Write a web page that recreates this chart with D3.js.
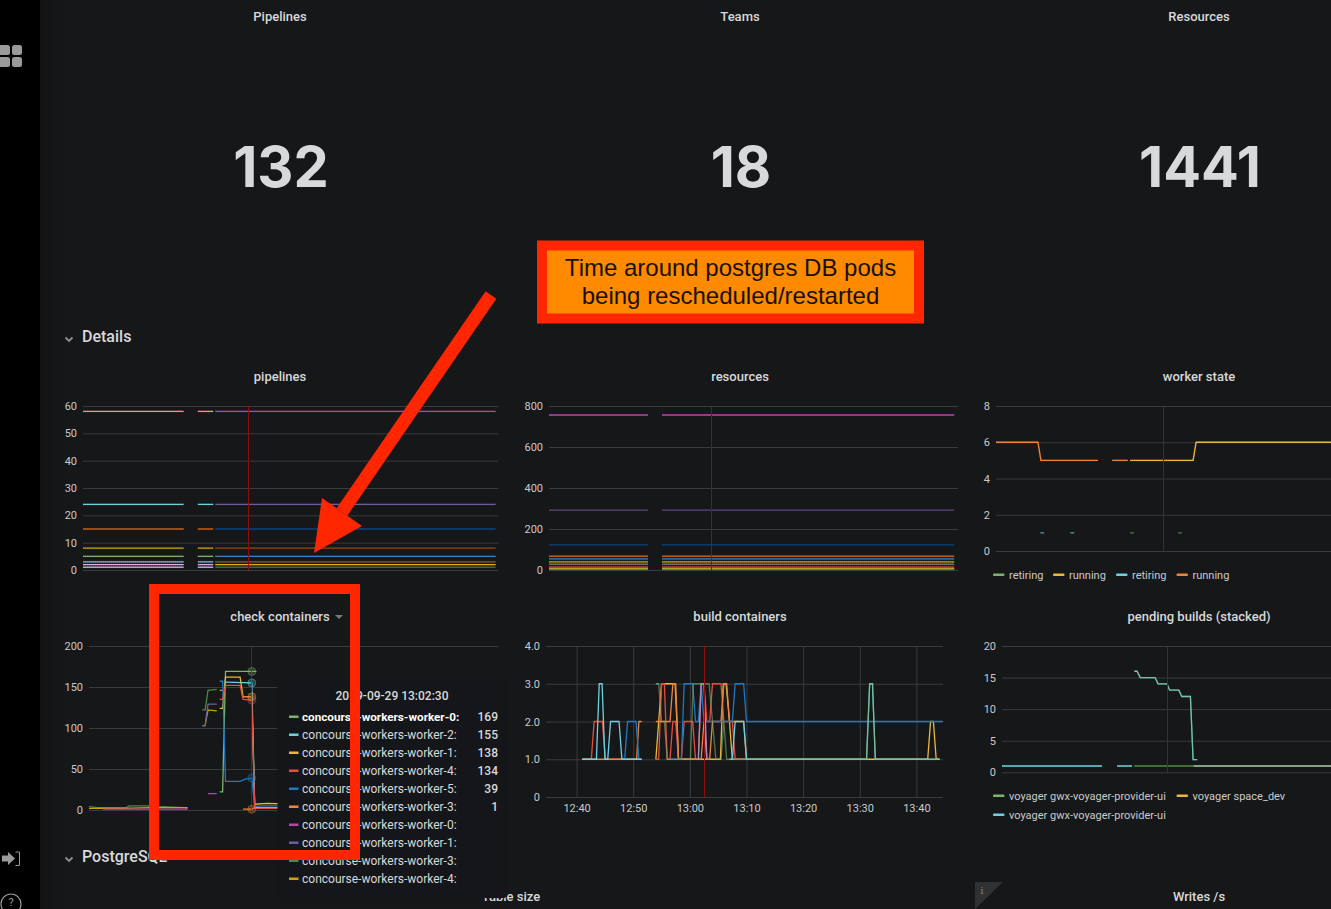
<!DOCTYPE html>
<html>
<head>
<meta charset="utf-8">
<title>concourse dashboard</title>
<script src="https://cdn.jsdelivr.net/npm/d3@7/dist/d3.min.js"></script>
<style>
    html, body { margin: 0; padding: 0; background: #161719; overflow: hidden; }
    svg { display: block; font-family: Roboto, sans-serif; }
    .tick text { fill: #c9cacb; font-size: 11px; font-family: Roboto, sans-serif; }
    .tick line { stroke: #3a3b3d; }
    .domain { display: none; }
    .title { fill: #d8d9da; font-size: 13px; font-weight: 500; text-anchor: middle; }
    .section { fill: #d8d9da; font-size: 16px; font-weight: 500; }
    .legend { fill: #c9cacb; font-size: 11px; }
    .tip { fill: #d8d9da; font-size: 12px; }
</style>
</head>
<body>
<svg id="chart" width="1331" height="909"></svg>
<script>
// times are minutes after 12:00 on 2019-09-29
var TIME_START = 34.6;
var TIME_END = 104.7;
var HOVER_TIME = 62.5;

var statTitles = ['Pipelines', 'Teams', 'Resources'];
var statValues = ['132', '18', '1441'];

var pipelineLevels = [58, 24, 15, 8, 5, 3, 2, 1];
var pipelineEarlySpans = [[34.6, 51.6], [54, 56.6]];
var pipelineLateSpans = [[56.95, 104.3]];

var resourceLevels = [756, 292, 123, 67, 54, 40, 28, 15, 8, 3];
var resourceSpans = [[34.6, 51.57], [53.97, 104.05]];

var workerYTicks = [0, 2, 4, 6, 8];
var workerRunningOrange = [[34.6, 6], [41.6, 6], [42.1, 5], [51.6, 5], [51.7, null], [54, 5], [56.6, 5]];
var workerRunningYellow = [[57, 5], [67.5, 5], [68, 6], [104.7, 6]];
var workerRetiringCyan = [[42, 1], [42.65, 1], [42.7, null], [47, 1], [47.65, 1]];
var workerRetiringGreen = [[57, 1], [57.6, 1], [57.7, null], [65, 1], [65.6, 1]];
var workerLegend = ['retiring', 'running', 'retiring', 'running'];

var checkGreenDark = [[34.6, 4], [36, 3], [41, 3], [41.5, 5], [44.7, 5], [45.2, 3], [46.4, 3], [47, 4], [51, 3], [51.5, 2], [51.6, null],
    [54, 122], [54.5, 122], [55, 146], [56.5, 147]];
var checkYellowDark = [[34.6, 2], [40, 2], [45, 3], [51.5, 3], [51.6, null],
    [54, 103], [54.5, 103], [55, 122], [56.5, 121]];
var checkPurple = [[54, 103], [54.5, 103], [55, 129], [56.5, 129]];
var checkMagenta = [[37, 1], [51.5, 1], [51.6, null], [55, 20], [56.5, 20]];
var checkGreen = [[57, 22], [57.5, 22], [58, 169], [63.3, 169]];
var checkOrange = [[57, 146], [57.5, 146], [57.6, null], [61, 1], [62.5, 1], [63, 3], [70, 3]];
var checkYellow = [[57, 124], [57.5, 124], [58, 162], [60.5, 162], [61, 138], [62.5, 138], [63, 7], [65, 8], [70, 7]];
var checkCyan = [[58, 156], [62.5, 155], [63, 3], [70, 3]];
var checkBlue = [[57, 157], [57.5, 157], [58, 35], [60.5, 35], [61.5, 38], [62, 38], [62.5, 39], [63, 4], [64, 5], [70, 5]];
var checkRed = [[57, 135], [57.5, 135], [58, 152], [60.5, 152], [61, 135], [62.5, 134], [63, 2], [70, 2]];

var buildTimeTicks = [40, 50, 60, 70, 80, 90, 100];
var buildYTicks = [0, 1, 2, 3, 4];
var buildGreen = [[54, 3], [54.5, 3], [55, 2], [55.5, 2], [56, 1], [60.1, 1], [60.6, 3], [63.4, 3], [64, 2], [64.6, 1], [65, 1], [65.5, 1], [66, 2], [66.5, 1], [70, 1],
    [91.2, 1], [91.75, 3], [92.25, 3], [92.75, 1], [104.1, 1]];
var buildYellow = [[54, 1], [54.5, 2], [55, 3], [57.4, 3], [58, 1], [65.4, 1], [65.9, 3], [66.4, 3], [67, 2], [67.5, 1], [70, 1],
    [102, 1], [102.5, 2], [103, 2], [103.5, 1], [104.1, 1]];
var buildRed = [[41, 1], [42.6, 1], [43.1, 2], [44.55, 2], [45.1, 1], [50.6, 1], [51, 1], [51.5, 1], [51.6, null],
    [54, 1], [54.5, 1], [55, 3], [55.5, 3], [56, 1], [56.5, 1], [57, 2], [57.5, 2], [58, 1], [58.5, 1], [59, 2], [60.5, 2], [61, 1], [61.5, 1], [62, 3], [62.5, 3], [63, 2], [63.5, 2], [64, 3], [65.5, 3], [66, 2], [67.5, 2], [68, 1], [70, 1]];
var buildOrange = [[41, 1], [50.6, 1], [51, 2], [51.5, 2], [51.6, null],
    [54, 2], [56.5, 2], [57, 3], [57.5, 3], [58, 1], [62, 1], [62.5, 2], [63, 1], [63.5, 1], [64, 2], [65.5, 2], [66, 3], [66.5, 3], [67, 2], [67.5, 2], [69.5, 2], [70, 1]];
var buildBlue = [[48, 1], [48.5, 1], [49, 2], [50.5, 2], [51, 1], [51.5, 1], [51.6, null],
    [54, 3], [54.5, 3], [54.6, null], [56.6, 1], [58.5, 1], [59, 3], [60.5, 3], [61, 2], [61.5, 2], [62, 3], [62.5, 2], [67.5, 2], [68, 3], [69.5, 3], [70, 2], [104.7, 2]];
var buildPurple = [[61.5, 1], [62, 3], [62.5, 3], [63, 1]];
var buildCyan = [[41, 1], [43.5, 1], [44, 3], [44.5, 3], [45, 1], [45.5, 1], [46, 2], [47.5, 2], [48, 1], [51.5, 1], [51.6, null],
    [67, 1], [67.5, 1], [68, 2], [69.5, 2], [70, 1], [91.2, 1], [91.75, 3], [92.25, 3], [92.75, 1], [104.1, 1]];

var pendingYTicks = [0, 5, 10, 15, 20];
var pendingStep = [[56.9, 16], [57.35, 16], [57.9, 15], [60.4, 15], [60.9, 14], [62.4, 14], [62.85, 13], [64.4, 13], [64.9, 12], [66.35, 12], [66.8, 2], [67.5, 2]];
var pendingBaseCyan = [[34.6, 1], [51.45, 1], [51.5, null], [54, 1], [56.5, 1]];
var pendingBaseGreen = [[56.9, 1], [66.9, 1]];
var pendingBaseLight = [[66.9, 1], [104.7, 1]];
var pendingLegend = ['voyager gwx-voyager-provider-ui', 'voyager space_dev', 'voyager gwx-voyager-provider-ui'];

var tooltipTime = '2019-09-29 13:02:30';
var tooltipNames = [
    'concourse-workers-worker-0:', 'concourse-workers-worker-2:', 'concourse-workers-worker-1:',
    'concourse-workers-worker-4:', 'concourse-workers-worker-5:', 'concourse-workers-worker-3:',
    'concourse-workers-worker-0:', 'concourse-workers-worker-1:', 'concourse-workers-worker-3:',
    'concourse-workers-worker-4:'
];
var tooltipValues = [169, 155, 138, 134, 39, 1, null, null, null, null];

(function () {
    'use strict';

    var svg = d3.select('#chart');
    var GREEN = '#7eb26d', YELLOW = '#eab839', CYAN = '#6ed0e0', ORANGE = '#ef843c',
        RED = '#e24d42', BLUE = '#1f78c1', MAGENTA = '#ba43a9', PURPLE = '#705da0',
        DARK_GREEN = '#508642', DARK_YELLOW = '#cca300';
    var tooltipColors = [GREEN, CYAN, YELLOW, RED, BLUE, ORANGE, MAGENTA, PURPLE, DARK_GREEN, DARK_YELLOW];

    function toDate(minutes) {
        return new Date(Date.UTC(2019, 8, 29, 12, 0, Math.round(minutes * 60)));
    }

    function flat(level, spans) {
        var points = [];
        spans.forEach(function (span, i) {
            if (i > 0) {
                points.push([span[0] - 0.01, null]);
            }
            points.push([span[0], level], [span[1], level]);
        });
        return points;
    }

    /**
     * grid, y ticks and scales for one graph panel
     */
    function makePanel(left, right, top, bottom, yMax, yTicks, yFormat) {
        var panel = {
            x: d3.scaleUtc().domain([toDate(TIME_START), toDate(TIME_END)]).range([left, right]),
            y: d3.scaleLinear().domain([0, yMax]).range([bottom, top]),
            g: svg.append('g')
        };
        panel.g.append('g')
            .attr('transform', 'translate(' + left + ',0)')
            .call(d3.axisLeft(panel.y)
                .tickValues(yTicks)
                .tickFormat(yFormat || d3.format('d'))
                .tickSize(-(right - left))
                .tickPadding(6));
        panel.line = d3.line()
            .defined(function (d) { return d[1] !== null; })
            .x(function (d) { return panel.x(toDate(d[0])); })
            .y(function (d) { return panel.y(d[1]); });
        panel.bottom = bottom;
        panel.top = top;
        return panel;
    }

    function drawLine(panel, points, color, dotted, opacity) {
        panel.g.append('path')
            .datum(points)
            .attr('fill', 'none')
            .attr('stroke', color)
            .attr('stroke-width', 1.3)
            .attr('stroke-opacity', opacity || 1)
            .attr('d', panel.line);
        if (dotted) {
            panel.g.append('path')
                .datum(points)
                .attr('fill', 'none')
                .attr('stroke', color)
                .attr('stroke-width', 2)
                .attr('stroke-opacity', 0.25)
                .attr('stroke-dasharray', '1,1')
                .attr('d', panel.line);
        }
    }

    function drawCrosshair(panel) {
        var x = Math.floor(panel.x(toDate(HOVER_TIME))) + 0.5;
        panel.g.append('line')
            .attr('x1', x).attr('x2', x)
            .attr('y1', panel.top).attr('y2', panel.bottom)
            .attr('stroke', '#8b0d0d')
            .attr('stroke-width', 1);
    }

    function title(text, x, y) {
        return svg.append('text').attr('class', 'title').attr('x', x).attr('y', y).text(text);
    }

    function legendItem(text, color, swatchX, y) {
        svg.append('rect')
            .attr('x', swatchX).attr('y', y - 1.5)
            .attr('width', 11.5).attr('height', 2.5).attr('rx', 1)
            .attr('fill', color);
        svg.append('text').attr('class', 'legend')
            .attr('x', swatchX + 16).attr('y', y + 4).text(text);
    }

    function chevron(y) {
        svg.append('polyline')
            .attr('points', '65.5,' + y + ' 69,' + (y + 3.5) + ' 72.5,' + y)
            .attr('fill', 'none').attr('stroke', '#8e8f90').attr('stroke-width', 1.8);
    }

    /**
     * page chrome
     */
    function drawChrome() {
        var shade = svg.append('defs').append('linearGradient').attr('id', 'shade');
        shade.append('stop').attr('offset', 0).attr('stop-color', '#121315');
        shade.append('stop').attr('offset', 1).attr('stop-color', '#161719');
        svg.append('rect').attr('width', 1331).attr('height', 909).attr('fill', '#161719');
        svg.append('rect').attr('x', 40).attr('width', 20).attr('height', 909).attr('fill', 'url(#shade)');
        svg.append('rect').attr('width', 40).attr('height', 909).attr('fill', '#000');

        [[-2, 45], [12, 45], [-2, 57], [12, 57]].forEach(function (p) {
            svg.append('rect').attr('x', p[0]).attr('y', p[1])
                .attr('width', p[0] < 0 ? 12 : 10).attr('height', 10).attr('rx', 2.5)
                .attr('fill', '#9a9a9a');
        });
        svg.append('path')
            .attr('d', 'M2,855.5 H8 V852 L15,858.5 L8,865 V861.5 H2 Z')
            .attr('fill', '#9a9a9a');
        svg.append('path')
            .attr('d', 'M15.5,852 H19.5 V865.5 H15.5')
            .attr('fill', 'none').attr('stroke', '#9a9a9a').attr('stroke-width', 1);
        svg.append('circle').attr('cx', 11).attr('cy', 904).attr('r', 10)
            .attr('fill', 'none').attr('stroke', '#9a9a9a').attr('stroke-width', 1.2);
        svg.append('text').attr('x', 11).attr('y', 906).attr('text-anchor', 'middle')
            .attr('fill', '#9a9a9a').attr('font-size', 11).text('?');

        svg.append('path').attr('d', 'M975,882 H1003 L975,909 Z').attr('fill', '#303133');
        svg.append('text').attr('x', 982).attr('y', 894).attr('text-anchor', 'middle')
            .attr('fill', '#8e8f90').attr('font-size', 9).attr('font-family', 'DejaVu Serif').text('i');
    }

    function drawStats() {
        var centers = [280, 740, 1199];
        statTitles.forEach(function (name, i) {
            title(name, centers[i], 21);
            svg.append('text')
                .attr('x', centers[i] + 1).attr('y', 187)
                .attr('text-anchor', 'middle')
                .attr('fill', '#d8d9da')
                .attr('font-family', 'Inter, Roboto, sans-serif')
                .attr('font-size', 56)
                .attr('font-weight', 700)
                .text(statValues[i]);
        });
        chevron(337.5);
        svg.append('text').attr('class', 'section').attr('x', 82).attr('y', 342).text('Details');
    }

    function drawPipelines() {
        var panel = makePanel(83, 498, 406, 570, 60, [0, 10, 20, 30, 40, 50, 60]);
        var early = ['#f29191', CYAN, '#c15c17', DARK_YELLOW, GREEN, '#82b5d8', '#e5a8e2', '#aea2e0'];
        var late = [MAGENTA, PURPLE, '#0a437c', '#99440a', '#447ebc', '#7a5a4a', '#e5ac0e', '#3f6833'];
        pipelineLevels.forEach(function (level, i) {
            drawLine(panel, flat(level, pipelineEarlySpans), early[i], true);
            drawLine(panel, flat(level, pipelineLateSpans), late[i], true);
        });
        drawCrosshair(panel);
        title('pipelines', 280, 381);
    }

    function drawResources() {
        var panel = makePanel(549, 958, 406, 570, 800, [0, 200, 400, 600, 800]);
        var colors = [MAGENTA, '#584477', '#0a437c', '#c15c17', '#447ebc', DARK_YELLOW, '#6d7176', '#bf3b2c', '#e5ac0e', DARK_GREEN];
        resourceLevels.forEach(function (level, i) {
            drawLine(panel, flat(level, resourceSpans), colors[i], true);
        });
        drawCrosshair(panel);
        title('resources', 740, 381);
    }

    function drawWorkers() {
        var panel = makePanel(996, 1416, 406, 551, 8, workerYTicks);
        drawLine(panel, workerRetiringCyan, CYAN, false, 0.7);
        drawLine(panel, workerRetiringGreen, DARK_GREEN);
        drawLine(panel, workerRunningOrange, ORANGE, true);
        drawLine(panel, workerRunningYellow, YELLOW, true);
        drawCrosshair(panel);
        title('worker state', 1199, 381);
        [GREEN, YELLOW, CYAN, ORANGE].forEach(function (color, i) {
            legendItem(workerLegend[i], color, [993, 1053, 1116, 1176.5][i], 575);
        });
    }

    function drawCheck() {
        var panel = makePanel(89, 498, 646, 810, 200, [0, 50, 100, 150, 200]);
        var hoverX = panel.x(toDate(HOVER_TIME));
        drawLine(panel, checkGreenDark, DARK_GREEN);
        drawLine(panel, checkYellowDark, DARK_YELLOW);
        drawLine(panel, checkPurple, PURPLE);
        drawLine(panel, checkMagenta, MAGENTA);
        drawLine(panel, checkGreen, GREEN);
        drawLine(panel, checkOrange, ORANGE);
        drawLine(panel, checkYellow, YELLOW);
        drawLine(panel, checkCyan, CYAN);
        drawLine(panel, checkBlue, BLUE);
        drawLine(panel, checkRed, RED);
        drawCrosshair(panel);
        tooltipValues.forEach(function (value, i) {
            if (value === null) {
                return;
            }
            panel.g.append('circle')
                .attr('cx', hoverX).attr('cy', panel.y(value)).attr('r', 4)
                .attr('fill', tooltipColors[i]).attr('fill-opacity', 0.25)
                .attr('stroke', tooltipColors[i]).attr('stroke-opacity', 0.4);
        });
        title('check containers', 280, 621);
        svg.append('path').attr('d', 'M335,615 H343 L339,619 Z').attr('fill', '#7b7b7c');
    }

    function drawBuild() {
        var panel = makePanel(546, 943, 646, 797, 4, buildYTicks, function (d) {
            return d === 0 ? '0' : d3.format('.1f')(d);
        });
        panel.g.append('g')
            .attr('transform', 'translate(0,797)')
            .call(d3.axisBottom(panel.x)
                .tickValues(buildTimeTicks.map(toDate))
                .tickFormat(d3.utcFormat('%H:%M'))
                .tickSize(-151)
                .tickPadding(7));
        drawLine(panel, buildYellow, YELLOW);
        drawLine(panel, buildRed, RED);
        drawLine(panel, buildOrange, ORANGE);
        drawLine(panel, buildBlue, BLUE);
        drawLine(panel, buildPurple, '#a98fc0');
        drawLine(panel, buildCyan, CYAN);
        drawLine(panel, buildGreen, GREEN, false, 0.6);
        drawCrosshair(panel);
        title('build containers', 740, 621);
    }

    function drawPending() {
        var panel = makePanel(1002, 1418, 646, 772.3, 20, pendingYTicks);
        drawLine(panel, pendingBaseCyan, CYAN, true);
        drawLine(panel, pendingBaseGreen, DARK_GREEN, true);
        drawLine(panel, pendingBaseLight, '#a3c9a0', true);
        drawLine(panel, pendingStep, CYAN);
        drawLine(panel, pendingStep, GREEN, false, 0.45);
        drawCrosshair(panel);
        title('pending builds (stacked)', 1199, 621);
        legendItem(pendingLegend[0], GREEN, 993, 796);
        legendItem(pendingLegend[1], YELLOW, 1176.5, 796);
        legendItem(pendingLegend[2], CYAN, 993, 815);
    }

    function drawBottomRow() {
        chevron(857.5);
        svg.append('text').attr('class', 'section').attr('x', 82).attr('y', 862).text('PostgreSQL');
        title('Table size', 511, 901);
        title('Writes /s', 1199, 901);
    }

    function drawTooltip() {
        var tip = svg.append('g');
        tip.append('rect')
            .attr('x', 277.5).attr('y', 680)
            .attr('width', 230).attr('height', 218).attr('rx', 4)
            .attr('fill', '#141619');
        tip.append('text').attr('class', 'tip')
            .attr('x', 392).attr('y', 700)
            .attr('text-anchor', 'middle')
            .attr('font-weight', 500)
            .text(tooltipTime);
        tooltipNames.forEach(function (name, i) {
            var y = 717 + i * 18;
            tip.append('rect')
                .attr('x', 289).attr('y', y - 1.5)
                .attr('width', 9.5).attr('height', 2.5)
                .attr('fill', tooltipColors[i]);
            tip.append('text').attr('class', 'tip')
                .attr('x', 302).attr('y', y + 4)
                .attr('font-weight', i === 0 ? 700 : 400)
                .style('font-size', i === 0 ? '11.7px' : null)
                .style('fill', i === 0 ? '#ffffff' : null)
                .text(name);
            if (tooltipValues[i] !== null) {
                tip.append('text').attr('class', 'tip')
                    .attr('x', 498).attr('y', y + 4)
                    .attr('text-anchor', 'end')
                    .attr('font-weight', 500)
                    .text(tooltipValues[i]);
            }
        });
    }

    /**
     * hand drawn markup on top of the screenshot
     */
    function drawMarkup() {
        var RED_MARK = '#ff2600';
        svg.append('rect')
            .attr('x', 154).attr('y', 589)
            .attr('width', 201).attr('height', 266)
            .attr('fill', 'none').attr('stroke', RED_MARK).attr('stroke-width', 10);
        svg.append('rect')
            .attr('x', 542).attr('y', 245.5)
            .attr('width', 377).attr('height', 73)
            .attr('fill', '#ff8a00').attr('stroke', RED_MARK).attr('stroke-width', 10);
        ['Time around postgres DB pods', 'being rescheduled/restarted'].forEach(function (line, i) {
            svg.append('text')
                .attr('x', 730.5).attr('y', 276 + i * 27.5)
                .attr('text-anchor', 'middle')
                .attr('font-family', '"Liberation Sans", Arial, sans-serif')
                .attr('font-size', 24)
                .attr('fill', '#1a1000')
                .text(line);
        });
        svg.append('line')
            .attr('x1', 491).attr('y1', 295)
            .attr('x2', 342).attr('y2', 512)
            .attr('stroke', RED_MARK).attr('stroke-width', 13);
        svg.append('path')
            .attr('d', 'M314,553 L322,498 L362,526 Z')
            .attr('fill', RED_MARK);
    }

    drawChrome();
    drawStats();
    drawPipelines();
    drawResources();
    drawWorkers();
    drawCheck();
    drawBuild();
    drawPending();
    drawBottomRow();
    drawTooltip();
    drawMarkup();
}());
</script>
</body>
</html>
